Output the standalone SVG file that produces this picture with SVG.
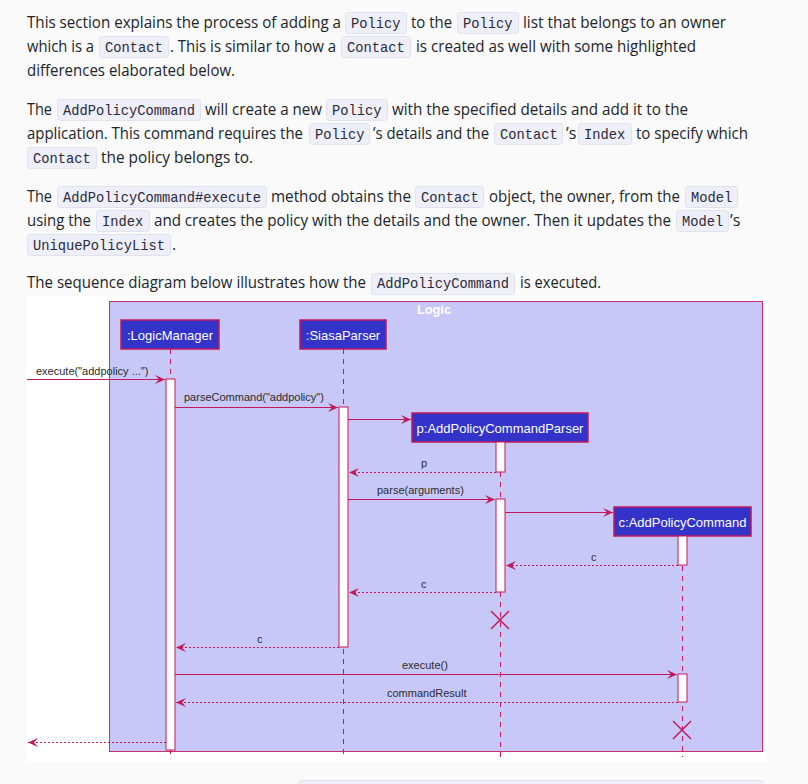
<svg xmlns="http://www.w3.org/2000/svg" width="808" height="784" viewBox="0 0 808 784">
<defs>
<style>
.t{font-family:"Open Sans","Noto Sans","Liberation Sans",sans-serif;font-size:16px;fill:#212529}
.m{font-family:"Liberation Mono","DejaVu Sans Mono",monospace;font-size:13.75px;fill:#2a2a3a}
.cb{fill:#EFEFF9;stroke:#E1E1EE;stroke-width:1}
.p{fill:#3333C9;stroke:#C2185B;stroke-width:1.5}
.pt{font-family:"Liberation Sans",Arial,sans-serif;font-size:13px;fill:#FFFFFF;text-anchor:middle}
.lbl{font-family:"Liberation Sans",Arial,sans-serif;font-size:11px;fill:#2b2b2b}
.ll{stroke:#C2185B;stroke-width:1;stroke-dasharray:5,5;fill:none}
.act{fill:#FFFFFF;stroke:#C2185B;stroke-width:1}
.msg{stroke:#C2185B;stroke-width:1;fill:none;marker-end:url(#ah)}
.ret{stroke:#C2185B;stroke-width:1;fill:none;stroke-dasharray:2,2;marker-end:url(#ah)}
.x{stroke:#C2185B;stroke-width:1.5;fill:none}
</style>
<marker id="ah" markerWidth="11" markerHeight="9" refX="10" refY="4.5" orient="auto" markerUnits="userSpaceOnUse">
<path d="M0,0 L10,4.5 L0,9 L4,4.5 Z" fill="#C2185B"/>
</marker>
</defs>
<rect x="0" y="0" width="808" height="784" fill="#FAFAFB"/>

<!-- Text paragraphs -->
<g id="text">
<rect class="cb" x="345.5" y="12.5" width="61" height="21" rx="3"/>
<rect class="cb" x="457.5" y="12.5" width="61" height="21" rx="3"/>
<text class="t" x="27" y="28" textLength="314" lengthAdjust="spacingAndGlyphs">This section explains the process of adding a</text>
<text class="m" x="351" y="28">Policy</text>
<text class="t" x="411" y="28" textLength="41" lengthAdjust="spacingAndGlyphs">to the</text>
<text class="m" x="463" y="28">Policy</text>
<text class="t" x="523" y="28" textLength="203" lengthAdjust="spacingAndGlyphs">list that belongs to an owner</text>

<rect class="cb" x="99.5" y="36.5" width="69" height="21" rx="3"/>
<rect class="cb" x="341.5" y="36.5" width="69" height="21" rx="3"/>
<text class="t" x="27" y="52" textLength="67" lengthAdjust="spacingAndGlyphs">which is a</text>
<text class="m" x="105" y="52">Contact</text>
<text class="t" x="170" y="52" textLength="166" lengthAdjust="spacingAndGlyphs">. This is similar to how a</text>
<text class="m" x="347" y="52">Contact</text>
<text class="t" x="416" y="52" textLength="280" lengthAdjust="spacingAndGlyphs">is created as well with some highlighted</text>

<text class="t" x="27" y="76" textLength="208" lengthAdjust="spacingAndGlyphs">differences elaborated below.</text>

<rect class="cb" x="57.5" y="99.5" width="143" height="21" rx="3"/>
<rect class="cb" x="326.5" y="99.5" width="61" height="21" rx="3"/>
<text class="t" x="27" y="115" textLength="25" lengthAdjust="spacingAndGlyphs">The</text>
<text class="m" x="63" y="115">AddPolicyCommand</text>
<text class="t" x="205" y="115" textLength="117" lengthAdjust="spacingAndGlyphs">will create a new</text>
<text class="m" x="332" y="115">Policy</text>
<text class="t" x="392" y="115" textLength="296" lengthAdjust="spacingAndGlyphs">with the specified details and add it to the</text>

<rect class="cb" x="309.5" y="123.5" width="60" height="21" rx="3"/>
<rect class="cb" x="494.5" y="123.5" width="68" height="21" rx="3"/>
<rect class="cb" x="578.5" y="123.5" width="53" height="21" rx="3"/>
<text class="t" x="27" y="139" textLength="276" lengthAdjust="spacingAndGlyphs">application. This command requires the</text>
<text class="m" x="315" y="139">Policy</text>
<text class="t" x="373" y="139" textLength="116" lengthAdjust="spacingAndGlyphs">’s details and the</text>
<text class="m" x="500" y="139">Contact</text>
<text class="t" x="566" y="139">’s</text>
<text class="m" x="584" y="139">Index</text>
<text class="t" x="636" y="139" textLength="112" lengthAdjust="spacingAndGlyphs">to specify which</text>

<rect class="cb" x="27.5" y="147.5" width="69" height="21" rx="3"/>
<text class="m" x="33" y="163">Contact</text>
<text class="t" x="101" y="163" textLength="152" lengthAdjust="spacingAndGlyphs">the policy belongs to.</text>

<rect class="cb" x="57.5" y="186.5" width="209" height="21" rx="3"/>
<rect class="cb" x="415.5" y="186.5" width="68" height="21" rx="3"/>
<rect class="cb" x="685.5" y="186.5" width="52" height="21" rx="3"/>
<text class="t" x="27" y="202" textLength="25" lengthAdjust="spacingAndGlyphs">The</text>
<text class="m" x="63" y="202">AddPolicyCommand#execute</text>
<text class="t" x="271" y="202" textLength="140" lengthAdjust="spacingAndGlyphs">method obtains the</text>
<text class="m" x="421" y="202">Contact</text>
<text class="t" x="489" y="202" textLength="191" lengthAdjust="spacingAndGlyphs">object, the owner, from the</text>
<text class="m" x="691" y="202">Model</text>

<rect class="cb" x="96.5" y="210.5" width="53" height="21" rx="3"/>
<rect class="cb" x="676.5" y="210.5" width="52" height="21" rx="3"/>
<text class="t" x="27" y="226" textLength="64" lengthAdjust="spacingAndGlyphs">using the</text>
<text class="m" x="102" y="226">Index</text>
<text class="t" x="154" y="226" textLength="517" lengthAdjust="spacingAndGlyphs">and creates the policy with the details and the owner. Then it updates the</text>
<text class="m" x="682" y="226">Model</text>
<text class="t" x="730" y="226">’s</text>

<rect class="cb" x="27.5" y="234.5" width="143" height="21" rx="3"/>
<text class="m" x="33" y="250">UniquePolicyList</text>
<text class="t" x="172" y="250">.</text>

<rect class="cb" x="371.5" y="273.5" width="143" height="21" rx="3"/>
<text class="t" x="27" y="288" textLength="339" lengthAdjust="spacingAndGlyphs">The sequence diagram below illustrates how the</text>
<text class="m" x="377" y="288">AddPolicyCommand</text>
<text class="t" x="520" y="288" textLength="81" lengthAdjust="spacingAndGlyphs">is executed.</text>
</g>

<!-- diagram background -->
<rect x="27" y="296" width="740" height="466" fill="#FFFFFF"/>
<rect class="cb" x="298.5" y="780.5" width="465" height="12" rx="3"/>

<g id="frame-logic">
<rect x="109.5" y="301.5" width="653" height="450" fill="#C8C8F8" stroke="#C8306A" stroke-width="1"/>
<text x="417" y="314" font-family="Liberation Sans, Arial, sans-serif" font-size="13" font-weight="bold" fill="#FFFFFF" textLength="34" lengthAdjust="spacingAndGlyphs">Logic</text>
</g>

<!-- lifelines -->
<g id="lifelines">
<line class="ll" x1="170.5" y1="349" x2="170.5" y2="757"/>
<line class="ll" x1="343.5" y1="349" x2="343.5" y2="757"/>
<line class="ll" x1="500.5" y1="442" x2="500.5" y2="757"/>
<line class="ll" x1="682.5" y1="536" x2="682.5" y2="757"/>
</g>

<g id="logicManager">
<rect class="p" x="121" y="320" width="98" height="29"/>
<text class="pt" x="170" y="340">:LogicManager</text>
<rect class="act" x="166" y="379" width="9" height="371"/>
</g>

<g id="siasaParser">
<rect class="p" x="300" y="320" width="86" height="29"/>
<text class="pt" x="343" y="340">:SiasaParser</text>
<rect class="act" x="339" y="407" width="9" height="240"/>
</g>

<g id="addPolicyCommandParser">
<rect class="p" x="412" y="413" width="176" height="29"/>
<text class="pt" x="500" y="433">p:AddPolicyCommandParser</text>
<rect class="act" x="496" y="442" width="9" height="30"/>
<rect class="act" x="496" y="499" width="9" height="93"/>
<path class="x" d="M491,611 L509,629 M509,611 L491,629"/>
</g>

<g id="addPolicyCommand">
<rect class="p" x="614" y="507" width="137" height="29"/>
<text class="pt" x="682.5" y="527">c:AddPolicyCommand</text>
<rect class="act" x="678" y="536" width="9" height="29"/>
<rect class="act" x="678" y="674" width="9" height="28"/>
<path class="x" d="M673,721 L691,739 M691,721 L673,739"/>
</g>

<g id="connectors">
<line class="msg" x1="27" y1="379.5" x2="165" y2="379.5"/>
<text class="lbl" x="36" y="375">execute("addpolicy ...")</text>
<line class="msg" x1="175" y1="407.5" x2="338" y2="407.5"/>
<text class="lbl" x="184" y="401">parseCommand("addpolicy")</text>
<line class="msg" x1="348" y1="419.5" x2="411" y2="419.5"/>
<line class="ret" x1="496" y1="472.5" x2="349" y2="472.5"/>
<text class="lbl" x="421" y="467">p</text>
<line class="msg" x1="348" y1="499.5" x2="495" y2="499.5"/>
<text class="lbl" x="377" y="494">parse(arguments)</text>
<line class="msg" x1="505" y1="512.5" x2="613" y2="512.5"/>
<line class="ret" x1="678" y1="565.5" x2="506" y2="565.5"/>
<text class="lbl" x="591" y="561">c</text>
<line class="ret" x1="496" y1="592.5" x2="349" y2="592.5"/>
<text class="lbl" x="421" y="588">c</text>
<line class="ret" x1="339" y1="647.5" x2="176" y2="647.5"/>
<text class="lbl" x="257" y="643">c</text>
<line class="msg" x1="175" y1="674.5" x2="677" y2="674.5"/>
<text class="lbl" x="402" y="669">execute()</text>
<line class="ret" x1="678" y1="702.5" x2="176" y2="702.5"/>
<text class="lbl" x="387" y="697">commandResult</text>
<line class="ret" x1="166" y1="742.5" x2="28" y2="742.5"/>
</g>
</svg>
